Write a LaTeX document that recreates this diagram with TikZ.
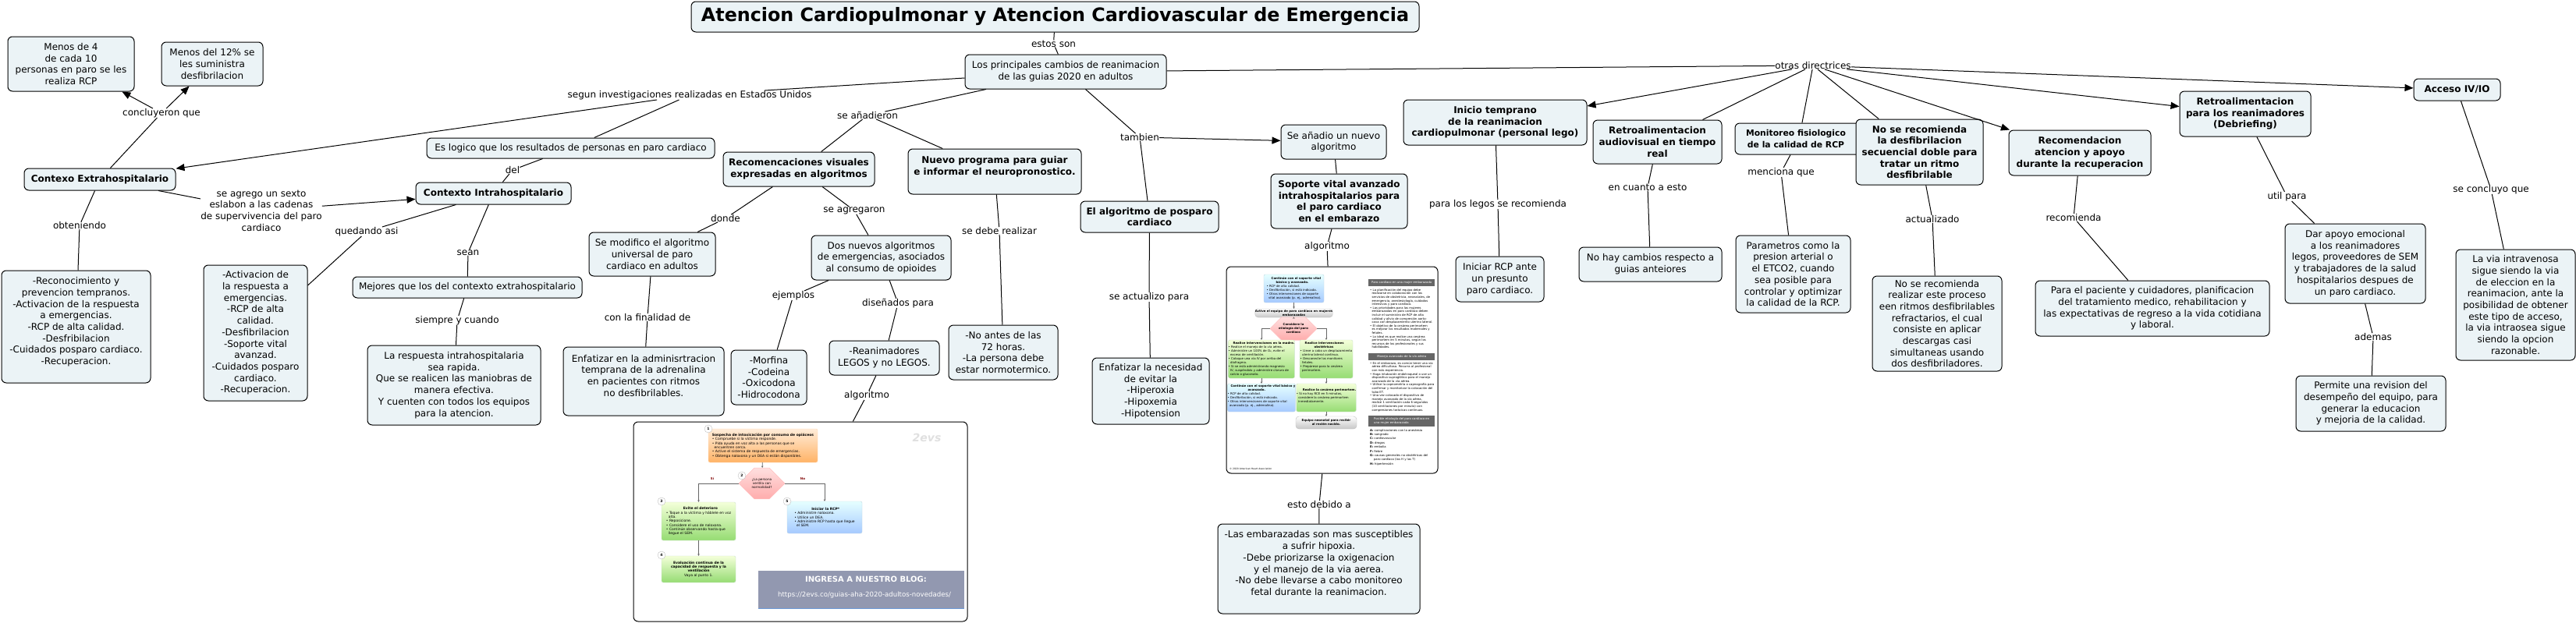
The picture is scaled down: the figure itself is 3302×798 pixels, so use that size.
\documentclass[tikz,border=0pt]{standalone}
\usepackage{fontspec}
\setmainfont{DejaVu Sans}
\usetikzlibrary{arrows.meta,shapes.misc}
\definecolor{paleblue}{HTML}{EBF3F6}
\definecolor{bannerblue}{HTML}{9298B0}
\tikzset{
	concept/.style={draw=black,line width=1pt,fill=paleblue,rounded corners=6pt,inner sep=0pt,align=center,font=\fontsize{12}{14.7}\selectfont},
	bconcept/.style={concept,font=\fontsize{12}{14.7}\selectfont\bfseries},
	linkword/.style={inner sep=0pt,align=center,font=\fontsize{12}{14.7}\selectfont},
	conn/.style={line width=1pt},
	arr/.style={line width=1pt,-{Triangle[length=11pt,width=9pt]}},
	picframe/.style={draw=black,line width=1pt,fill=white,rounded corners=6pt,inner sep=0pt},
	smallbox/.style={rounded corners=2pt,inner sep=0pt,align=left,font=\fontsize{4.5}{5.3}\selectfont},
	orangebox/.style={smallbox,top color=orange!15,bottom color=orange!60,draw=orange!30},
	greenbox/.style={smallbox,top color=green!30!yellow!15,bottom color=green!50!olive!55,draw=green!30!gray!30},
	bluebox/.style={smallbox,top color=cyan!10,bottom color=cyan!40!blue!35,draw=cyan!40!gray!40},
	greybox/.style={smallbox,rounded corners=4pt,top color=white,bottom color=black!22,draw=black!25},
	pinkhex/.style={chamfered rectangle,chamfered rectangle xsep=12pt,chamfered rectangle ysep=17pt,inner sep=0pt,align=center,top color=pink!50,bottom color=pink!90!red,draw=pink,font=\fontsize{4.2}{5.3}\selectfont},
	numdot/.style={circle,fill=white,draw=black!25,inner sep=0pt,minimum size=10pt,font=\fontsize{4.5}{5}\selectfont\bfseries},
	picline/.style={draw=black!60,line width=.7pt,-{Stealth[length=2.5pt,width=2.5pt]}},
	sidehead/.style={fill=black!60,text=white,inner sep=1pt,align=left,anchor=west,font=\fontsize{3.8}{4.6}\selectfont},
	sidetext/.style={inner sep=0pt,align=left,anchor=north west,font=\fontsize{3.8}{4.6}\selectfont}
}
\begin{document}
\begin{tikzpicture}[x=1pt,y=-1pt]
	\useasboundingbox (0,0) rectangle (3302,798);

	\node[concept,font=\fontsize{23.8}{30}\selectfont\bfseries,minimum width=933,minimum height=39] (title) at (1352.5,21.5) {Atencion Cardiopulmonar y Atencion Cardiovascular de Emergencia};
	\node[concept,minimum width=258,minimum height=44] (main) at (1366,92) {Los principales cambios de reanimacion\\de las guias 2020 en adultos};

	\node[concept,minimum width=162,minimum height=70] (menoscuatro) at (91,82) {Menos de 4\\de cada 10\\personas en paro se les\\realiza RCP};
	\node[concept,minimum width=130,minimum height=56] (menosdoce) at (272,82) {Menos del 12\% se\\les suministra\\desfibrilacion};
	\node[bconcept,minimum width=194,minimum height=28] (extra) at (128,230) {Contexo Extrahospitalario};
	\node[concept,minimum width=191,minimum height=144] (recon) at (97.5,419) {-Reconocimiento y\\prevencion tempranos.\\-Activacion de la  respuesta\\a emergencias.\\-RCP de alta calidad.\\-Desfribilacion\\-Cuidados posparo cardiaco.\\-Recuperacion.\\~};
	\node[concept,minimum width=133,minimum height=174] (activa) at (327.5,427) {-Activacion de\\la respuesta a\\emergencias.\\-RCP de alta\\calidad.\\-Desfibrilacion\\-Soporte vital\\avanzad.\\-Cuidados posparo\\cardiaco.\\-Recuperacion.};
	\node[concept,minimum width=369,minimum height=26] (logico) at (731.5,190) {Es logico que los resultados de personas en paro cardiaco};
	\node[bconcept,minimum width=199,minimum height=28] (intra) at (632.5,248) {Contexto Intrahospitalario};
	\node[concept,minimum width=294,minimum height=27] (mejores) at (599,368.5) {Mejores que los del contexto extrahospitalario};
	\node[concept,minimum width=222,minimum height=102] (respuesta) at (582,494) {La respuesta intrahospitalaria\\sea rapida.\\Que se realicen las maniobras de\\manera efectiva.\\Y cuenten con todos los equipos\\para la atencion.};

	\node[bconcept,minimum width=194,minimum height=44] (visuales) at (1024,217) {Recomencaciones visuales\\expresadas en algoritmos};
	\node[bconcept,minimum width=222,minimum height=58] (nuevo) at (1275,220) {Nuevo programa para guiar\\e informar el neuropronostico.\\~};
	\node[concept,minimum width=162,minimum height=56] (modifico) at (836,326) {Se modifico el algoritmo\\universal de paro\\cardiaco en adultos};
	\node[concept,minimum width=179,minimum height=57] (dosnuevos) at (1129.5,330.5) {Dos nuevos algoritmos\\de emergencias, asociados\\al consumo de opioides};
	\node[concept,minimum width=206,minimum height=88] (enfatizar) at (825,489) {Enfatizar en la adminisrtracion\\temprana de la adrenalina\\en pacientes con ritmos\\no desfibrilables.\\~};
	\node[concept,minimum width=97,minimum height=70] (morfina) at (985.5,484) {-Morfina\\-Codeina\\-Oxicodona\\-Hidrocodona};
	\node[concept,minimum width=141,minimum height=44] (reanima) at (1133.5,459) {-Reanimadores\\LEGOS y no LEGOS.};
	\node[concept,minimum width=140,minimum height=70] (noantes) at (1286,452) {-No antes de las\\72 horas.\\-La persona debe\\estar normotermico.};
	\node[bconcept,minimum width=177,minimum height=40] (posparo) at (1473.5,278) {El algoritmo de posparo\\cardiaco};
	\node[concept,minimum width=150,minimum height=85] (necesidad) at (1475,501.5) {Enfatizar la necesidad\\de evitar la\\-Hiperoxia\\-Hipoxemia\\-Hipotension};

	\node[concept,minimum width=135,minimum height=44] (anadio) at (1709.5,182) {Se añadio un nuevo\\algoritmo};
	\node[bconcept,minimum width=175,minimum height=70] (soporte) at (1716.5,258) {Soporte vital avanzado\\intrahospitalarios para\\el paro cardiaco\\en el embarazo};
	\node[concept,minimum width=259,minimum height=115] (embarazadas) at (1690.5,729.5) {-Las embarazadas son mas susceptibles\\a sufrir hipoxia.\\-Debe priorizarse la oxigenacion\\y el manejo de la via aerea.\\-No debe llevarse a cabo monitoreo\\fetal durante la reanimacion.\\~};

	\node[bconcept,minimum width=235,minimum height=58] (inicio) at (1916.5,157) {Inicio temprano\\de la reanimacion\\cardiopulmonar (personal lego)};
	\node[concept,minimum width=113,minimum height=58] (iniciar) at (1922.5,358) {Iniciar RCP ante\\un presunto\\paro cardiaco.};
	\node[bconcept,minimum width=165,minimum height=56] (audio) at (2124.5,182) {Retroalimentacion\\audiovisual en tiempo\\real};
	\node[concept,minimum width=183,minimum height=44] (nohay) at (2115.5,339) {No hay cambios respecto a\\guias anteiores};
	\node[bconcept,font=\fontsize{10.8}{14.7}\selectfont\bfseries,minimum width=164,minimum height=40] (monitoreo) at (2306,178) {\hspace*{-8pt}Monitoreo fisiologico\\\hspace*{-8pt}de la calidad de RCP};
	\node[concept,minimum width=147,minimum height=99] (parametros) at (2298.5,351.5) {Parametros como la\\presion arterial o\\el ETCO2, cuando\\sea posible para\\controlar y optimizar\\la calidad de la RCP.};
	\node[bconcept,minimum width=163,minimum height=84] (nose) at (2460.5,195) {No se recomienda\\la desfibrilacion\\secuencial doble para\\tratar un ritmo\\desfibrilable};
	\node[concept,minimum width=166,minimum height=122] (noserec) at (2483,415) {No se recomienda\\realizar este proceso\\een ritmos desfibrilables\\refractarios, el cual\\consiste en aplicar\\descargas casi\\simultaneas usando\\dos desfibriladores.};
	\node[bconcept,minimum width=182,minimum height=58] (recomend) at (2666,196) {Recomendacion\\atencion y apoyo\\durante la recuperacion};
	\node[concept,minimum width=300,minimum height=71] (paciente) at (2759,395.5) {Para el paciente y cuidadores, planificacion\\del tratamiento medico, rehabilitacion y\\las expectativas de regreso a la vida cotidiana\\y laboral.};
	\node[bconcept,minimum width=168,minimum height=58] (debrief) at (2878,146) {Retroalimentacion\\para los reanimadores\\(Debriefing)};
	\node[concept,minimum width=180,minimum height=102] (darapoyo) at (3019,338) {Dar apoyo emocional\\a los reanimadores\\legos, proveedores de SEM\\y trabajadores de la salud\\hospitalarios despues de\\un paro cardiaco.};
	\node[concept,minimum width=192,minimum height=71] (permite) at (3039,517.5) {Permite una revision del\\desempeño del equipo, para\\generar la educacion\\y mejoria de la calidad.};
	\node[bconcept,minimum width=111,minimum height=28] (acceso) at (3149.5,115) {Acceso IV/IO};
	\node[concept,minimum width=153,minimum height=142] (lavia) at (3224.5,391) {La via intravenosa\\sigue siendo la via\\de eleccion en la\\reanimacion, ante la\\posibilidad de obtener\\este tipo de acceso,\\la via intraosea sigue\\siendo la opcion\\razonable.};

	\node[linkword] (concluyeron) at (207,145) {concluyeron que};
	\node[linkword] (obteniendo) at (102,289) {obteniendo};
	\node[linkword] (sexto) at (335,270) {se agrego un sexto\\eslabon a las cadenas\\de supervivencia del paro\\cardiaco};
	\node[linkword] (quedando) at (470,297) {quedando asi};
	\node[linkword] (del) at (657,218) {del};
	\node[linkword] (sean) at (600,324) {sean};
	\node[linkword] (siempre) at (586,411) {siempre y cuando};
	\node[linkword] (segun) at (884,122) {segun investigaciones realizadas en Estados Unidos};
	\node[linkword] (estos) at (1350.5,56) {estos son};
	\node[linkword] (anadieron) at (1112,148) {se añadieron};
	\node[linkword] (tambien) at (1461,176) {tambien};
	\node[linkword] (donde) at (930,280) {donde};
	\node[linkword] (agregaron) at (1095,270) {se agregaron};
	\node[linkword] (debe) at (1281,296) {se debe realizar};
	\node[linkword] (finalidad) at (830,407) {con la finalidad de};
	\node[linkword] (ejemplos) at (1017,379) {ejemplos};
	\node[linkword] (disenados) at (1151,389) {diseñados para};
	\node[linkword] (actualizo) at (1473,381) {se actualizo para};
	\node[linkword] (algouno) at (1111,507) {algoritmo};
	\node[linkword] (algodos) at (1701,316) {algoritmo};
	\node[linkword] (debido) at (1691,647) {esto debido a};
	\node[linkword] (legos) at (1920,262) {para los legos se recomienda};
	\node[linkword] (cuanto) at (2112,240) {en cuanto a esto};
	\node[linkword] (menciona) at (2283,221) {menciona que};
	\node[linkword] (otras) at (2324,84) {otras directrices};
	\node[linkword] (actualizado) at (2477,281) {actualizado};
	\node[linkword] (recomienda) at (2658,279) {recomienda};
	\node[linkword] (util) at (2931.5,252) {util para};
	\node[linkword] (concluyo) at (3193,243) {se concluyo que};
	\node[linkword] (ademas) at (3042,432) {ademas};

	\node[picframe,minimum width=428,minimum height=256] (picuno) at (1026,669) {};
	\node[picframe,minimum width=271,minimum height=265] (picdos) at (1707.5,474.5) {};

	\node[orangebox,minimum width=140,minimum height=43] (sospecha) at (978,571.5) {\textbf{Sospecha de intoxicación por consumo de opiáceos}\\• Compruebe si la víctima responde.\\• Pida ayuda en voz alta a las personas que se\\\ \ encuentren cerca.\\• Active el sistema de respuesta de emergencias.\\• Obtenga naloxona y un DEA si están disponibles.};
	\node[pinkhex,minimum width=59,minimum height=34] (ventila) at (976.5,620) {¿La persona\\ventila con\\normalidad?};
	\node[greenbox,minimum width=95,minimum height=49] (evite) at (895.5,668.5) {\hspace*{22pt}\textbf{Evite el deterioro}\\• Toque a la víctima y háblele en voz\\\ \ alta.\\• Reposicione.\\• Considere el uso de naloxona.\\• Continúe observando hasta que\\\ \ llegue el SEM.};
	\node[greenbox,align=center,minimum width=95,minimum height=34] (evaluacion) at (895.5,730) {\textbf{Evaluación continua de la}\\\textbf{capacidad de respuesta y la}\\\textbf{ventilación}\\Vaya al punto 1.};
	\node[bluebox,minimum width=96,minimum height=41] (rcp) at (1057,663.5) {\hspace*{22pt}\textbf{Iniciar la RCP*}\\• Administre naloxona.\\• Utilice un DEA.\\• Administre RCP hasta que llegue\\\ \ el SEM.};
	\node[numdot] (numuno) at (908,550) {1};
	\node[numdot] (numdos) at (951,610) {2};
	\node[numdot] (numtres) at (848,643) {3};
	\node[numdot] (numcuatro) at (848,712) {4};
	\node[numdot] (numcinco) at (1009,643) {5};
	\node[inner sep=0pt,text=red!50!black,font=\fontsize{4}{5}\selectfont\bfseries] (si) at (913,614) {Sí};
	\node[inner sep=0pt,text=red!50!black,font=\fontsize{4}{5}\selectfont\bfseries] (no) at (1029,614) {No};
	\node[inner sep=0pt,text=black!12,font=\fontsize{14}{16}\selectfont\itshape\bfseries] (logo) at (1188,561) {2evs};
	\node[fill=bannerblue,minimum width=264,minimum height=48,inner sep=0pt] (banner) at (1104,756) {};
	\draw[cyan!50!blue!60,line width=1pt] (banner.south west) -- (banner.south east);
	\node[text=white,inner sep=0pt,font=\fontsize{10}{11}\selectfont\bfseries] (ingresa) at (1110,743) {INGRESA A NUESTRO BLOG:};
	\node[text=white,inner sep=0pt,font=\fontsize{8.6}{10}\selectfont] (enlace) at (1108,763) {https://2evs.co/guias-aha-2020-adultos-novedades/};
	\draw[picline] (sospecha) -- (ventila);
	\draw[picline] (ventila.west) -| (evite.north);
	\draw[picline] (ventila.east) -| (rcp.north);
	\draw[picline] (evite) -- (evaluacion);

	\node[bluebox,font=\fontsize{3.9}{5}\selectfont,minimum width=77,minimum height=36] (continuea) at (1658.5,370) {\hspace*{6pt}\textbf{Continúe con el soporte vital}\\\hspace*{12pt}\textbf{básico y avanzado.}\\• RCP de alta calidad.\\• Desfibrilación, si está indicada.\\• Otras intervenciones de soporte\\\ \ vital avanzado (p. ej., adrenalina).};
	\node[greybox,align=center,font=\fontsize{3.9}{5}\selectfont\bfseries,minimum width=93,minimum height=11] (activeq) at (1658.5,401.5) {Active el equipo de paro cardíaco en mujeres\\embarazadas};
	\node[pinkhex,chamfered rectangle ysep=8.5pt,chamfered rectangle xsep=12pt,minimum width=60,minimum height=17,font=\fontsize{3.8}{5}\selectfont\bfseries] (considere) at (1658,421.5) {Considere la\\etiología del paro\\cardíaco};
	\node[greenbox,font=\fontsize{3.9}{5}\selectfont,minimum width=82,minimum height=49] (madre) at (1617,460.5) {\hspace*{6pt}\textbf{Realice intervenciones en la madre.}\\• Realice el manejo de la vía aérea.\\• Administre un 100\% de O₂, evite el\\\ \ exceso de ventilación.\\• Coloque una vía IV por arriba del\\\ \ diafragma.\\• Si se está administrando magnesio\\\ \ IV, suspéndalo y administre cloruro de\\\ \ calcio o gluconato.};
	\node[greenbox,font=\fontsize{3.9}{5}\selectfont,minimum width=68,minimum height=49] (obstetricas) at (1700,460.5) {\hspace*{6pt}\textbf{Realice intervenciones}\\\hspace*{18pt}\textbf{obstétricas}\\• Lleve a cabo un desplazamiento\\\ \ uterino lateral continuo.\\• Desconecte los monitores\\\ \ fetales.\\• Prepárese para la cesárea\\\ \ perimortem.\\~};
	\node[bluebox,font=\fontsize{3.9}{5}\selectfont,minimum width=82,minimum height=36] (continueb) at (1617,510) {\hspace*{4pt}\textbf{Continúe con el soporte vital básico y}\\\hspace*{26pt}\textbf{avanzado.}\\• RCP de alta calidad.\\• Desfibrilación, si está indicada.\\• Otras intervenciones de soporte vital\\\ \ avanzado (p. ej., adrenalina).\\~};
	\node[greenbox,font=\fontsize{3.9}{5}\selectfont,minimum width=76,minimum height=36] (cesarea) at (1700,510) {\hspace*{8pt}\textbf{Realice la cesárea perimortem.}\\• Si no hay RCE en 5 minutos,\\\ \ considere la cesárea perimortem\\\ \ inmediatamente.\\~};
	\node[greybox,align=center,font=\fontsize{3.9}{5}\selectfont\bfseries,minimum width=78,minimum height=16] (neonatal) at (1700,542) {Equipo neonatal para recibir\\al recién nacido.};
	\draw[picline] (continuea) -- (activeq);
	\draw[picline] (activeq) -- (considere);
	\draw[picline] (considere.west) -| (madre.north);
	\draw[picline] (considere.east) -| (obstetricas.north);
	\draw[picline] (madre) -- (continueb);
	\draw[picline] (obstetricas) -- (cesarea);
	\draw[picline] (cesarea) -- (neonatal);

	\node[sidehead,minimum width=85,minimum height=9] (headuno) at (1754,362.5) {Paro cardíaco en una mujer embarazada};
	\node[sidetext] (textuno) at (1756,370) {• La planificación del equipo debe\\\ \ realizarse en colaboración con los\\\ \ servicios de obstetricia, neonatales, de\\\ \ emergencia, anestesiología, cuidados\\\ \ intensivos y paro cardíaco.\\• Las prioridades para las mujeres\\\ \ embarazadas en paro cardíaco deben\\\ \ incluir el suministro de RCP de alta\\\ \ calidad y alivio de compresión aorto-\\\ \ cava con desplazamiento uterino lateral.\\• El objetivo de la cesárea perimortem\\\ \ es mejorar los resultados maternales y\\\ \ fetales.\\• Lo ideal es que realice una cesárea\\\ \ perimortem en 5 minutos, según los\\\ \ recursos de los profesionales y sus\\\ \ habilidades.};
	\node[sidehead,minimum width=85,minimum height=9] (headdos) at (1754,457.5) {Manejo avanzado de la vía aérea};
	\node[sidetext] (textdos) at (1756,464) {• En el embarazo, es común tener una vía\\\ \ aérea dificultosa. Recurra al profesional\\\ \ con más experiencia.\\• Haga intubación endotraqueal o use un\\\ \ dispositivo supraglótico para el manejo\\\ \ avanzado de la vía aérea.\\• Utilice la capnometría o capnografía para\\\ \ confirmar y monitorizar la colocación del\\\ \ tubo ET.\\• Una vez colocado el dispositivo de\\\ \ manejo avanzado de la vía aérea,\\\ \ realice 1 ventilación cada 6 segundos\\\ \ (10 ventilaciones por minuto) con\\\ \ compresiones torácicas continuas.};
	\node[sidehead,minimum width=85,minimum height=14] (headtres) at (1754,540) {Posible etiología del paro cardíaco en\\una mujer embarazada};
	\node[sidetext,font=\fontsize{3.8}{5.4}\selectfont] (texttres) at (1756,550) {\textbf{A:} complicaciones con la anestesia\\\textbf{B:} sangrado\\\textbf{C:} cardiovascular\\\textbf{D:} drogas\\\textbf{E:} embolia\\\textbf{F:} fiebre\\\textbf{G:} causas generales no obstétricas del\\\ \ \ \ paro cardíaco (las H y las T)\\\textbf{H:} hipertensión};
	\node[sidetext,font=\fontsize{3}{4}\selectfont,anchor=west] (copy) at (1576,601) {© 2020 American Heart Association};

	\draw[conn] (title) -- (estos);
	\draw[conn] (estos) -- (main);
	\draw[conn] (main) -- (segun);
	\draw[arr] (segun) -- (extra);
	\draw[conn] (segun) -- (logico);
	\draw[conn] (logico) -- (del);
	\draw[conn] (del) -- (intra);
	\draw[conn] (extra) -- (concluyeron);
	\draw[arr] (concluyeron) -- (menoscuatro);
	\draw[arr] (concluyeron) -- (menosdoce);
	\draw[conn] (extra) -- (obteniendo);
	\draw[conn] (obteniendo) -- (recon);
	\draw[conn] (extra) -- (sexto);
	\draw[arr] (sexto) -- (intra);
	\draw[conn] (intra) -- (quedando);
	\draw[conn] (quedando) -- (activa);
	\draw[conn] (intra) -- (sean);
	\draw[conn] (sean) -- (mejores);
	\draw[conn] (mejores) -- (siempre);
	\draw[conn] (siempre) -- (respuesta);
	\draw[conn] (main) -- (anadieron);
	\draw[conn] (anadieron) -- (visuales);
	\draw[conn] (anadieron) -- (nuevo);
	\draw[conn] (visuales) -- (donde);
	\draw[conn] (donde) -- (modifico);
	\draw[conn] (modifico) -- (finalidad);
	\draw[conn] (finalidad) -- (enfatizar);
	\draw[conn] (visuales) -- (agregaron);
	\draw[conn] (agregaron) -- (dosnuevos);
	\draw[conn] (dosnuevos) -- (ejemplos);
	\draw[conn] (ejemplos) -- (morfina);
	\draw[conn] (dosnuevos) -- (disenados);
	\draw[conn] (disenados) -- (reanima);
	\draw[conn] (reanima) -- (algouno);
	\draw[conn] (algouno) -- (picuno);
	\draw[conn] (nuevo) -- (debe);
	\draw[conn] (debe) -- (noantes);
	\draw[conn] (main) -- (tambien);
	\draw[conn] (tambien) -- (posparo);
	\draw[arr] (tambien) -- (anadio);
	\draw[conn] (posparo) -- (actualizo);
	\draw[conn] (actualizo) -- (necesidad);
	\draw[conn] (anadio) -- (soporte);
	\draw[conn] (soporte) -- (algodos);
	\draw[conn] (algodos) -- (picdos);
	\draw[conn] (picdos) -- (debido);
	\draw[conn] (debido) -- (embarazadas);
	\draw[conn] (main) -- (otras);
	\draw[arr] (otras) -- (inicio);
	\draw[conn] (otras) -- (audio);
	\draw[conn] (otras) -- (monitoreo);
	\draw[conn] (otras) -- (nose);
	\draw[arr] (otras) -- (recomend);
	\draw[arr] (otras) -- (debrief);
	\draw[arr] (otras) -- (acceso);
	\draw[conn] (inicio) -- (legos);
	\draw[conn] (legos) -- (iniciar);
	\draw[conn] (audio) -- (cuanto);
	\draw[conn] (cuanto) -- (nohay);
	\draw[conn] (monitoreo) -- (menciona);
	\draw[conn] (menciona) -- (parametros);
	\draw[conn] (nose) -- (actualizado);
	\draw[conn] (actualizado) -- (noserec);
	\draw[conn] (recomend) -- (recomienda);
	\draw[conn] (recomienda) -- (paciente);
	\draw[conn] (debrief) -- (util);
	\draw[conn] (util) -- (darapoyo);
	\draw[conn] (darapoyo) -- (ademas);
	\draw[conn] (ademas) -- (permite);
	\draw[conn] (acceso) -- (concluyo);
	\draw[conn] (concluyo) -- (lavia);
\end{tikzpicture}
\end{document}
